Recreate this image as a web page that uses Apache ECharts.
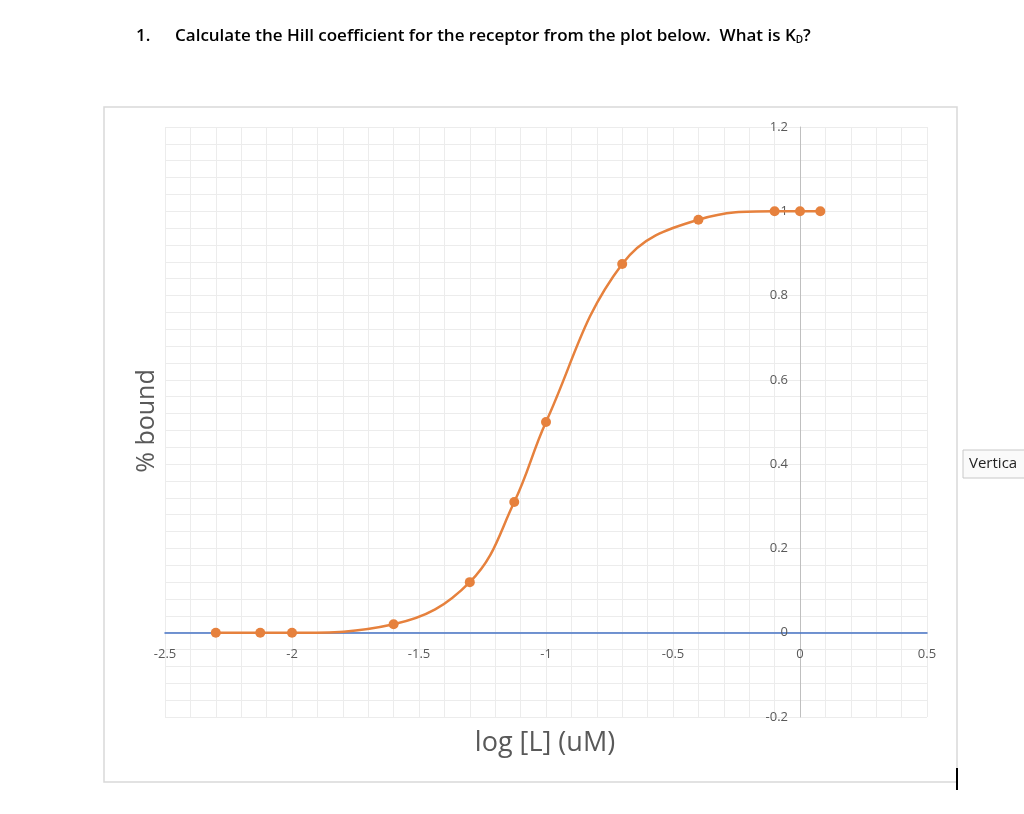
<!DOCTYPE html>
<html>
<head>
<meta charset="utf-8">
<title>Hill plot</title>
<script src="https://cdn.jsdelivr.net/npm/echarts@6/dist/echarts.min.js"></script>
<style>
    html, body { margin: 0; padding: 0; background: #fff; }
    #curve_show { width: 1024px; height: 814px; }
</style>
</head>
<body>
<div id="curve_show"></div>
<script>
// 1、data
var logL = [-2.3, -2.125, -2, -1.6, -1.3, -1.125, -1, -0.7, -0.4, -0.1, 0, 0.08];
var bound = [0, 0, 0, 0.02, 0.12, 0.31, 0.5, 0.875, 0.98, 1, 1, 1];
var xTicks = [-2.5, -2, -1.5, -1, -0.5, 0, 0.5];
var yTicks = [-0.2, 0, 0.2, 0.4, 0.6, 0.8, 1, 1.2];

var labelFont = '"Open Sans", "Liberation Sans", sans-serif';
var orange = '#e6813d';

// 2、build points
var points = [];
for (var i = 0; i < logL.length; i++) {
    points.push([logL[i], bound[i]]);
}

// grid box, axes cross at (0, 0) inside it
var gLeft = 165, gRight = 97, gTop = 127, gBottom = 97;
var gW = 1024 - gLeft - gRight;
var gH = 814 - gTop - gBottom;
var xMin = xTicks[0], xMax = xTicks[xTicks.length - 1];
var yMin = yTicks[0], yMax = yTicks[yTicks.length - 1];
var yAxisShift = gW * (0 - xMin) / (xMax - xMin);
var xAxisShift = gH * (0 - yMin) / (yMax - yMin);

var myChart = echarts.init(document.getElementById('curve_show'));

option = {
    animation: false,
    backgroundColor: '#fff',
    grid: {
        left: gLeft,
        right: gRight,
        top: gTop,
        bottom: gBottom
    },
    xAxis: {
        type: 'value',
        min: xMin,
        max: xMax,
        interval: 0.5,
        offset: -xAxisShift,
        axisLine: { onZero: false, lineStyle: { color: '#4472c4', width: 1.5 } },
        axisTick: { show: false },
        axisLabel: { color: '#595959', fontSize: 13, fontFamily: labelFont, margin: 15 },
        splitLine: { show: true, lineStyle: { color: '#ececec', width: 1 } },
        minorTick: { show: false, splitNumber: 5 },
        minorSplitLine: { show: true, lineStyle: { color: '#ececec', width: 1 } }
    },
    yAxis: {
        type: 'value',
        min: yMin,
        max: yMax,
        interval: 0.2,
        offset: -yAxisShift,
        axisLine: { onZero: false, lineStyle: { color: '#bfbfbf', width: 1 } },
        axisTick: { show: false },
        axisLabel: { color: '#595959', fontSize: 13, fontFamily: labelFont, margin: 12 },
        splitLine: { show: true, lineStyle: { color: '#ececec', width: 1 } },
        minorTick: { show: false, splitNumber: 5 },
        minorSplitLine: { show: true, lineStyle: { color: '#ececec', width: 1 } }
    },
    series: [
        {
            name: '% bound',
            type: 'line',
            smooth: 0.4,
            symbol: 'circle',
            symbolSize: 10,
            itemStyle: { color: orange },
            lineStyle: { color: orange, width: 2.5 },
            data: points,
            z: 5
        }
    ],
    graphic: [
        // chart border
        {
            type: 'rect',
            shape: { x: 104, y: 107, width: 853, height: 675 },
            style: { fill: 'none', stroke: '#d9d9d9', lineWidth: 1.5 },
            z: -10
        },
        // question text
        {
            type: 'text',
            left: 136,
            top: 28,
            style: {
                text: '1.',
                font: '600 17px "Open Sans", sans-serif',
                fill: '#000'
            }
        },
        {
            type: 'text',
            left: 175,
            top: 28,
            style: {
                text: '{a|Calculate the Hill coefficient for the receptor from the plot below.  What is K}{s|D}{a|?}',
                rich: {
                    a: { font: '600 17px "Open Sans", sans-serif', fill: '#000' },
                    s: { font: '600 10px "Open Sans", sans-serif', fill: '#000', padding: [8, 0, 0, 0] }
                }
            }
        },
        // axis titles
        {
            type: 'text',
            x: 147,
            y: 421,
            rotation: Math.PI / 2,
            style: {
                text: '% bound',
                font: '25px "Open Sans", sans-serif',
                fill: '#595959',
                textAlign: 'center',
                textVerticalAlign: 'middle'
            }
        },
        {
            type: 'text',
            x: 545,
            y: 743,
            style: {
                text: 'log [L] (uM)',
                font: '27px "Open Sans", sans-serif',
                fill: '#595959',
                textAlign: 'center',
                textVerticalAlign: 'middle'
            }
        },
        // side tooltip box
        {
            type: 'rect',
            shape: { x: 963, y: 450, width: 80, height: 28 },
            style: { fill: '#fafafa', stroke: '#c8c8c8', lineWidth: 1 }
        },
        {
            type: 'text',
            x: 969,
            y: 464,
            style: {
                text: 'Vertica',
                font: '15px "Open Sans", sans-serif',
                fill: '#222',
                textVerticalAlign: 'middle'
            }
        },
        // text cursor
        {
            type: 'line',
            shape: { x1: 957, y1: 768, x2: 957, y2: 790 },
            style: { stroke: '#000', lineWidth: 2 }
        }
    ]
};

myChart.setOption(option);
</script>
</body>
</html>
